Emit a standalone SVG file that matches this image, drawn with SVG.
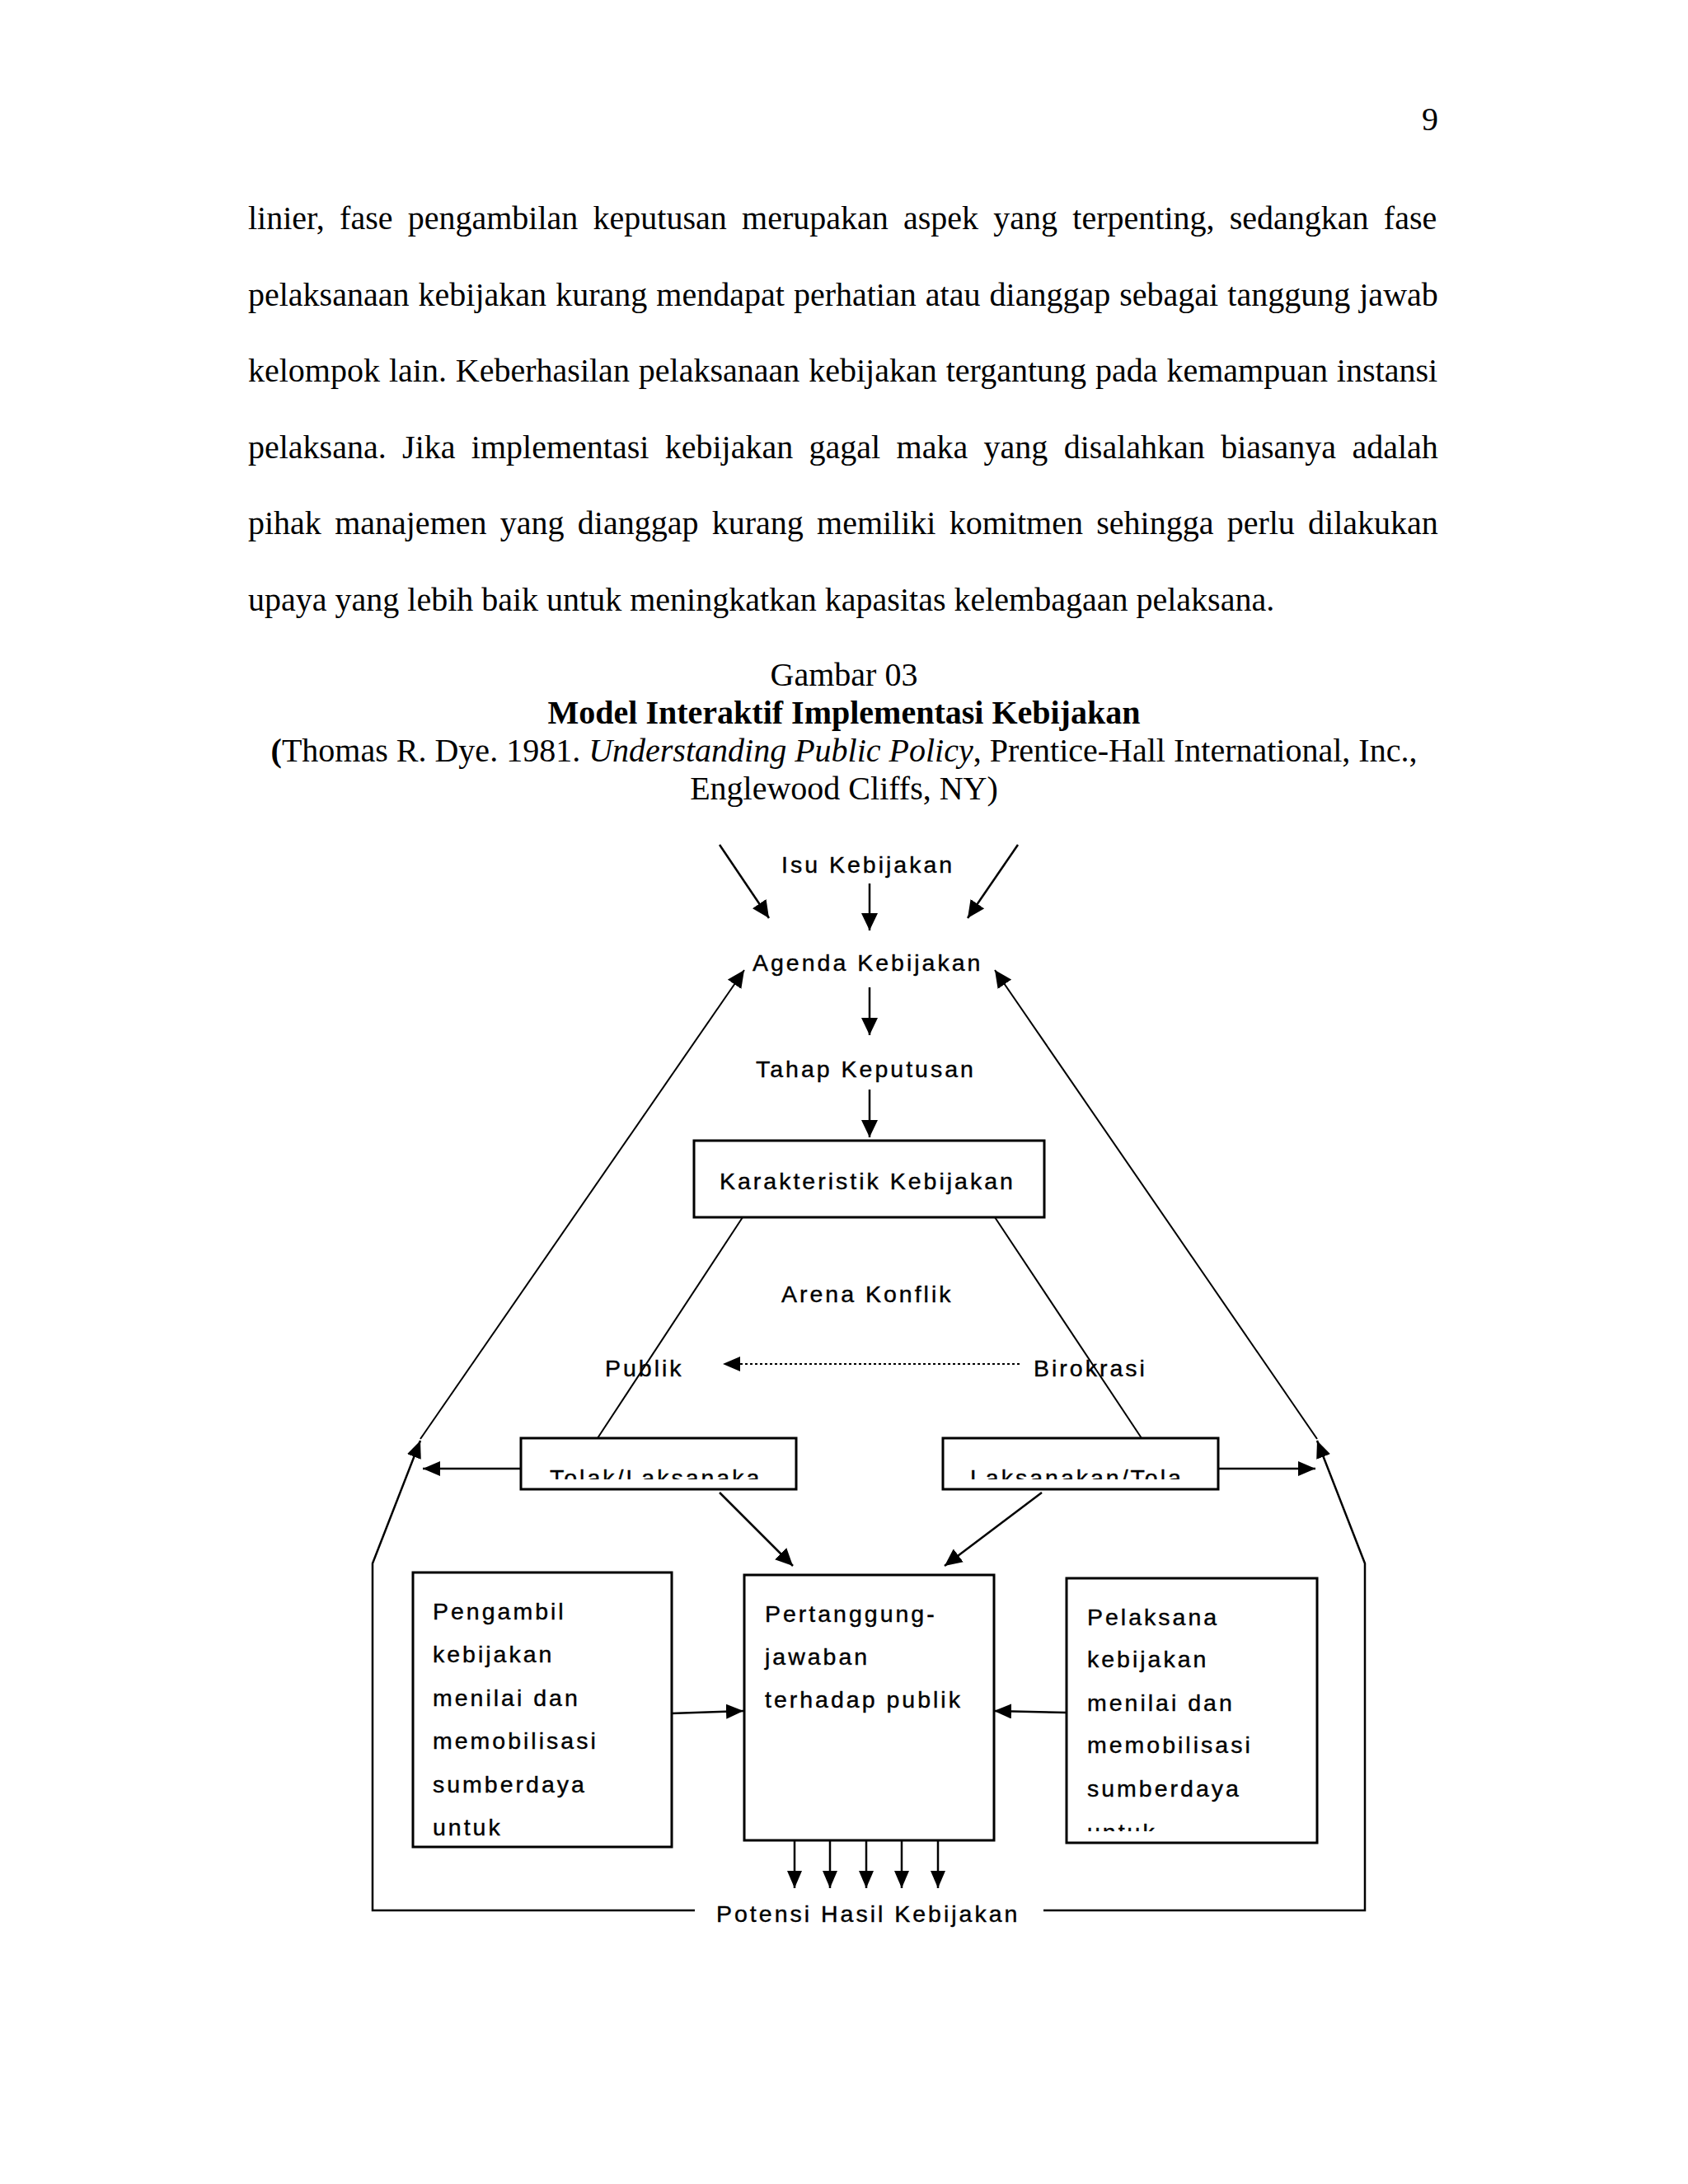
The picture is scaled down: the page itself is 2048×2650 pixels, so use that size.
<svg xmlns="http://www.w3.org/2000/svg" width="2048" height="2650" viewBox="0 0 2048 2650">
<style>
.body{font-family:"Liberation Serif","Times New Roman",serif;font-size:40px;fill:#000}
.dg{font-family:"Liberation Sans",Arial,sans-serif;font-size:28.5px;letter-spacing:3px;fill:#000;stroke:#000;stroke-width:0.4}
.box{fill:#fff;stroke:#000;stroke-width:3}
.ln{fill:none;stroke:#000;stroke-width:2.5}
.thin{fill:none;stroke:#000;stroke-width:2}
.dot{fill:none;stroke:#000;stroke-width:2;stroke-dasharray:3 3}
</style>
<defs>
<marker id="ah" markerUnits="userSpaceOnUse" markerWidth="22" markerHeight="20" refX="21" refY="10" orient="auto">
<path d="M0,0 L21,10 L0,20 z" fill="#000"/>
</marker>
<marker id="ahs" markerUnits="userSpaceOnUse" markerWidth="22" markerHeight="18" refX="21" refY="9" orient="auto">
<path d="M0,0 L21,9 L0,18 z" fill="#000"/>
</marker>
<clipPath id="clipTolak"><rect x="632" y="1747" width="334" height="48"/></clipPath>
<clipPath id="clipLaks"><rect x="1145" y="1747" width="332" height="48"/></clipPath>
<clipPath id="clipPel"><rect x="1296" y="1917" width="300" height="305"/></clipPath>
</defs>
<rect width="2048" height="2650" fill="#fff"/>

<g id="page-text">
<text class="body" x="1745" y="158" text-anchor="end">9</text>
<text class="body" x="301" y="278" word-spacing="8.26">linier, fase pengambilan keputusan merupakan aspek yang terpenting, sedangkan fase</text>
<text class="body" x="301" y="370.5" word-spacing="1.1">pelaksanaan kebijakan kurang mendapat perhatian atau dianggap sebagai tanggung jawab</text>
<text class="body" x="301" y="463" word-spacing="0.95">kelompok lain. Keberhasilan pelaksanaan kebijakan tergantung pada kemampuan instansi</text>
<text class="body" x="301" y="555.5" word-spacing="9.37">pelaksana. Jika implementasi kebijakan gagal maka yang disalahkan biasanya adalah</text>
<text class="body" x="301" y="648" word-spacing="6.27">pihak manajemen yang dianggap kurang memiliki komitmen sehingga perlu dilakukan</text>
<text class="body" x="301" y="740.5">upaya yang lebih baik untuk meningkatkan kapasitas kelembagaan pelaksana.</text>
</g>

<g id="caption">
<text class="body" x="1024" y="832" text-anchor="middle">Gambar 03</text>
<text class="body" x="1024" y="878" text-anchor="middle" font-weight="bold">Model Interaktif Implementasi Kebijakan</text>
<text class="body" x="1024" y="924" text-anchor="middle"><tspan font-weight="bold">(</tspan>Thomas R. Dye. 1981. <tspan font-style="italic">Understanding Public Policy</tspan>, Prentice-Hall International, Inc.,</text>
<text class="body" x="1024" y="970" text-anchor="middle">Englewood Cliffs, NY)</text>
</g>

<g id="connectors">
<line class="ln" x1="873" y1="1025" x2="933" y2="1114" marker-end="url(#ah)"/>
<line class="ln" x1="1055" y1="1072" x2="1055" y2="1129" marker-end="url(#ah)"/>
<line class="ln" x1="1235" y1="1025" x2="1174" y2="1114" marker-end="url(#ah)"/>
<line class="ln" x1="1055" y1="1198" x2="1055" y2="1256" marker-end="url(#ah)"/>
<line class="ln" x1="1055" y1="1322" x2="1055" y2="1380" marker-end="url(#ah)"/>
<line class="thin" x1="510" y1="1746" x2="903" y2="1177" marker-end="url(#ah)"/>
<line class="thin" x1="1598" y1="1746" x2="1207" y2="1177" marker-end="url(#ah)"/>
<line class="thin" x1="901" y1="1477" x2="725" y2="1745"/>
<line class="thin" x1="1207" y1="1477" x2="1385" y2="1745"/>
<line class="dot" x1="1237" y1="1655" x2="877" y2="1655" marker-end="url(#ahs)"/>
<line class="ln" x1="631" y1="1782" x2="513" y2="1782" marker-end="url(#ahs)"/>
<line class="ln" x1="1477" y1="1782" x2="1596" y2="1782" marker-end="url(#ahs)"/>
<polyline class="ln" points="843,2318 452,2318 452,1897 510,1748" marker-end="url(#ahs)"/>
<polyline class="ln" points="1266,2318 1656,2318 1656,1897 1598,1748" marker-end="url(#ahs)"/>
<line class="ln" x1="873" y1="1811" x2="962" y2="1900" marker-end="url(#ah)"/>
<line class="ln" x1="1264" y1="1811" x2="1146" y2="1900" marker-end="url(#ah)"/>
<line class="ln" x1="814" y1="2079" x2="902" y2="2076" marker-end="url(#ahs)"/>
<line class="ln" x1="1294" y1="2078" x2="1206" y2="2076" marker-end="url(#ahs)"/>
<line class="ln" x1="964" y1="2233" x2="964" y2="2291" marker-end="url(#ahs)"/>
<line class="ln" x1="1007" y1="2233" x2="1007" y2="2291" marker-end="url(#ahs)"/>
<line class="ln" x1="1051" y1="2233" x2="1051" y2="2291" marker-end="url(#ahs)"/>
<line class="ln" x1="1094" y1="2233" x2="1094" y2="2291" marker-end="url(#ahs)"/>
<line class="ln" x1="1138" y1="2233" x2="1138" y2="2291" marker-end="url(#ahs)"/>
</g>

<g id="isu"><text class="dg" x="948" y="1059">Isu Kebijakan</text></g>
<g id="agenda"><text class="dg" x="913" y="1178">Agenda Kebijakan</text></g>
<g id="tahap"><text class="dg" x="917" y="1307">Tahap Keputusan</text></g>
<g id="karakteristik">
<rect class="box" x="842" y="1384" width="425" height="93"/>
<text class="dg" x="873" y="1443">Karakteristik Kebijakan</text>
</g>
<g id="arena"><text class="dg" x="948" y="1580">Arena Konflik</text></g>
<g id="publik"><text class="dg" x="734" y="1670">Publik</text></g>
<g id="birokrasi"><text class="dg" x="1254" y="1670">Birokrasi</text></g>
<g id="tolak">
<rect class="box" x="632" y="1745" width="334" height="62"/>
<text class="dg" x="667" y="1803" clip-path="url(#clipTolak)">Tolak/Laksanaka</text>
</g>
<g id="laksanakan">
<rect class="box" x="1144" y="1745" width="334" height="62"/>
<text class="dg" x="1177" y="1803" clip-path="url(#clipLaks)">Laksanakan/Tola</text>
</g>
<g id="pengambil">
<rect class="box" x="501" y="1908" width="314" height="333"/>
<text class="dg" x="525" y="1965">Pengambil</text>
<text class="dg" x="525" y="2017">kebijakan</text>
<text class="dg" x="525" y="2070">menilai dan</text>
<text class="dg" x="525" y="2122">memobilisasi</text>
<text class="dg" x="525" y="2175">sumberdaya</text>
<text class="dg" x="525" y="2227">untuk</text>
</g>
<g id="pertanggung">
<rect class="box" x="903" y="1911" width="303" height="322"/>
<text class="dg" x="928" y="1968">Pertanggung-</text>
<text class="dg" x="928" y="2020">jawaban</text>
<text class="dg" x="928" y="2072">terhadap publik</text>
</g>
<g id="pelaksana">
<rect class="box" x="1294" y="1915" width="304" height="321"/>
<g clip-path="url(#clipPel)">
<text class="dg" x="1319" y="1972">Pelaksana</text>
<text class="dg" x="1319" y="2023">kebijakan</text>
<text class="dg" x="1319" y="2076">menilai dan</text>
<text class="dg" x="1319" y="2127">memobilisasi</text>
<text class="dg" x="1319" y="2180">sumberdaya</text>
<text class="dg" x="1319" y="2233">untuk</text>
</g>
</g>
<g id="potensi"><text class="dg" x="869" y="2332">Potensi Hasil Kebijakan</text></g>
</svg>
